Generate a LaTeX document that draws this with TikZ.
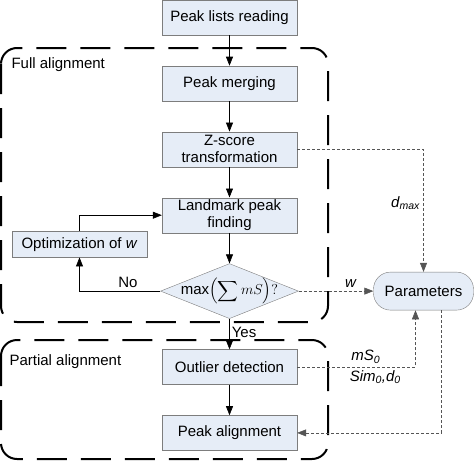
\documentclass[tikz,border=0pt]{standalone}
\usepackage{fontspec}
\setmainfont{Liberation Sans}
\usepackage{amsmath}
\usetikzlibrary{positioning, arrows.meta, shapes.geometric}
\definecolor{boxfill}{RGB}{230,237,247}
\definecolor{boxline}{RGB}{125,125,125}
\definecolor{dashline}{RGB}{85,85,85}

\begin{document}
\begin{tikzpicture}[
        x=1pt, y=1pt,
        node distance=30.5pt and 30pt,
        font=\fontsize{15}{17}\selectfont,
        % processing step style
        stepbox/.style={rectangle, draw=boxline, fill=boxfill, minimum width=135pt, minimum height=35pt, inner sep=1pt, align=center},
        % decision style
        decide/.style={diamond, aspect=2.5, draw=boxline, fill=boxfill, minimum width=138pt, minimum height=55pt, inner sep=-10pt},
        % parameter store style
        store/.style={rectangle, rounded corners=17pt, draw=boxline, fill=boxfill, minimum width=100pt, minimum height=38pt},
        % arrow styles
        arrow/.style={-{Triangle[length=9pt, width=7pt]}, line width=0.6pt},
        darrow/.style={-{Triangle[length=9pt, width=7pt]}, densely dashed, dashline, line width=0.6pt},
        % dashed region style
        region/.style={draw, line width=2pt, dash pattern=on 30pt off 14pt, rounded corners=16pt}
    ]
    \useasboundingbox (0,0) rectangle (474,-461);

    % regions
    \draw[region] (1,-48) rectangle (328,-322);
    \draw[region] (1,-340) rectangle (328,-459);
    \node[anchor=west] (l_full) at (8,-65) {Full alignment};
    \node[anchor=west] (l_part) at (6,-362) {Partial alignment};

    % main flow
    \node[stepbox] (reading) at (229.5,-17.5) {Peak lists reading};
    \node[stepbox, below=of reading] (merging) {Peak merging};
    \node[stepbox, below=of merging] (zscore) {Z-score\\transformation};
    \node[stepbox, below=of zscore] (landmark) {Landmark peak\\finding};
    \node[decide, below=of landmark] (decision) {$\displaystyle\max\Bigl(\sum mS\Bigr)?$};
    \node[stepbox, below=of decision] (outlier) {Outlier detection};
    \node[stepbox, below=of outlier] (alignment) {Peak alignment};

    % side nodes
    \node[stepbox, minimum height=26pt] (optim) at ([xshift=-150pt, yshift=-29pt]landmark.center) {Optimization of \textit{w}};
    \node[store] (params) at ([xshift=194pt]decision.center) {Parameters};

    % solid arrows
    \draw[arrow] (reading) -- (merging);
    \draw[arrow] (merging) -- (zscore);
    \draw[arrow] (zscore) -- (landmark);
    \draw[arrow] (landmark) -- (decision);
    \draw[arrow] (decision) -- node[right, inner sep=2pt, pos=0.45] {Yes} (outlier);
    \draw[arrow] (outlier) -- (alignment);
    \draw[arrow] (decision.west) -| node[above, pos=0.2] {No} (optim.south);
    \draw[arrow] (optim.north) |- (landmark.west);

    % dashed parameter links
    \draw[darrow] (zscore.east) -| node[left, pos=0.72, black] {\textit{d\textsubscript{max}}} (params.north);
    \draw[darrow] (decision.east) -- node[above, pos=0.7, black] {\textit{w}} (params.west);
    \draw[darrow] (outlier.east) -| node[above, pos=0.29, black] {\textit{mS\textsubscript{0}}}
        node[below, pos=0.33, black] {\textit{Sim\textsubscript{0},d\textsubscript{0}}} ([xshift=-8pt]params.south);
    \draw[darrow] ([xshift=18pt]params.south) |- (alignment.east);

\end{tikzpicture}
\end{document}
